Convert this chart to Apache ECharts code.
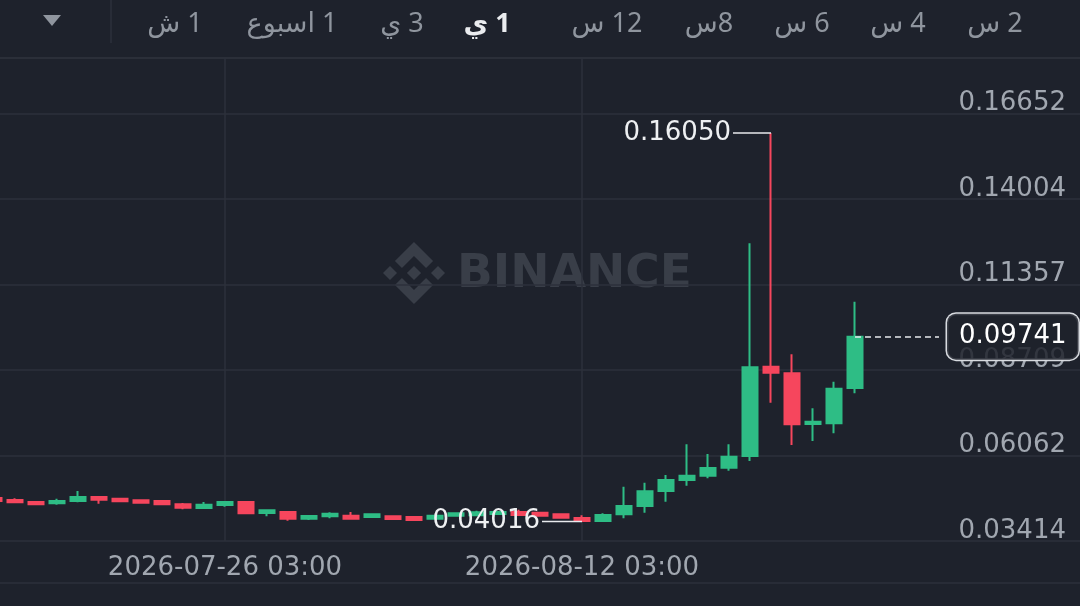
<!DOCTYPE html>
<html><head><meta charset="utf-8">
<script src="https://cdn.jsdelivr.net/npm/echarts@6/dist/echarts.min.js"></script>
<style>
html,body{margin:0;padding:0;background:#1e222c;overflow:hidden;width:1080px;height:606px}
#chart{position:absolute;left:-6px;top:0;width:1092px;height:606px}
#bar{position:absolute;left:0;top:0;width:1080px;height:58px;pointer-events:none}
#bar span{position:absolute;top:0;line-height:44px;transform:translateX(-50%);font-family:"Noto Sans","DejaVu Sans",sans-serif;font-size:27px;color:#8f959e;white-space:nowrap}
#bar span.on{color:#eaecef;font-weight:bold}
</style></head><body>
<div id="chart"></div>
<div id="bar"></div>
<script>
// ---- data ----
const categories = [
'2026-07-15 03:00','2026-07-16 03:00','2026-07-17 03:00','2026-07-18 03:00','2026-07-19 03:00','2026-07-20 03:00',
'2026-07-21 03:00','2026-07-22 03:00','2026-07-23 03:00','2026-07-24 03:00','2026-07-25 03:00','2026-07-26 03:00',
'2026-07-27 03:00','2026-07-28 03:00','2026-07-29 03:00','2026-07-30 03:00','2026-07-31 03:00','2026-08-01 03:00',
'2026-08-02 03:00','2026-08-03 03:00','2026-08-04 03:00','2026-08-05 03:00','2026-08-06 03:00','2026-08-07 03:00',
'2026-08-08 03:00','2026-08-09 03:00','2026-08-10 03:00','2026-08-11 03:00','2026-08-12 03:00','2026-08-13 03:00',
'2026-08-14 03:00','2026-08-15 03:00','2026-08-16 03:00','2026-08-17 03:00','2026-08-18 03:00','2026-08-19 03:00',
'2026-08-20 03:00','2026-08-21 03:00','2026-08-22 03:00','2026-08-23 03:00','2026-08-24 03:00','2026-08-25 03:00',
'2026-08-26 03:00','2026-08-27 03:00','2026-08-28 03:00','2026-08-29 03:00','2026-08-30 03:00','2026-08-31 03:00',
'2026-09-01 03:00','2026-09-02 03:00','2026-09-03 03:00','2026-09-04 03:00','2026-09-05 03:00'
];
const openPrices = [0.04746,0.04684,0.04622,0.04581,0.04653,0.04777,0.04724,0.04674,0.04653,0.04551,0.04436,0.04529,
0.04622,0.04281,0.04312,0.04105,0.04179,0.04197,0.04157,0.04179,0.04157,0.04105,0.04197,0.04210,0.04250,0.04312,
0.04290,0.04241,0.04126,0.04033,0.04241,0.04498,0.04962,0.05303,0.05436,0.05684,0.06046,0.08811,0.08607,0.07037,
0.07059,0.08152];
const closePrices = [0.04653,0.04612,0.04551,0.04653,0.04777,0.04693,0.04643,0.04600,0.04551,0.04445,0.04538,0.04622,
0.04272,0.04365,0.04105,0.04188,0.04259,0.04105,0.04241,0.04095,0.04064,0.04197,0.04272,0.04303,0.04312,0.04219,
0.04197,0.04136,0.04033,0.04219,0.04498,0.04953,0.05303,0.05436,0.05675,0.06025,0.08793,0.08626,0.07028,0.07108,
0.08130,0.09741];
const lowPrices = [0.04630,0.04591,0.04538,0.04538,0.04612,0.04569,0.04630,0.04590,0.04540,0.04396,0.04405,0.04476,
0.04241,0.04179,0.04043,0.04064,0.04117,0.04095,0.04140,0.04064,0.04050,0.04090,0.04180,0.04195,0.04235,0.04200,
0.04180,0.04120,0.04016,0.04030,0.04117,0.04290,0.04631,0.05126,0.05356,0.05591,0.05891,0.07697,0.06387,0.06511,
0.06749,0.07988];
const highPrices = [0.04770,0.04736,0.04653,0.04724,0.04962,0.04790,0.04746,0.04690,0.04684,0.04591,0.04622,0.04653,
0.04630,0.04390,0.04343,0.04219,0.04303,0.04312,0.04260,0.04210,0.04170,0.04215,0.04290,0.04352,0.04330,0.04383,
0.04305,0.04260,0.04210,0.04272,0.05095,0.05219,0.05458,0.06408,0.06108,0.06408,0.12632,0.16050,0.09195,0.07523,
0.08347,0.10824];
const yTicks = [0.03414, 0.06062, 0.08709, 0.11357, 0.14004, 0.16652];
const xTickLabels = ['2026-07-26 03:00', '2026-08-12 03:00'];
const intervalTabs = ['2 س', '4 س', '6 س', '8س', '12 س', '1 ي', '3 ي', '1 اسبوع', '1 ش'];
const activeTab = '1 ي';

// ---- layout ----
const tabCenters = [995, 898, 802, 709, 607, 487, 402, 292, 175];
const bar = document.getElementById('bar');
intervalTabs.forEach((t, i) => {
  const s = document.createElement('span');
  s.dir = 'rtl';
  s.textContent = t;
  s.style.left = tabCenters[i] + 'px';
  if (t === activeTab) s.className = 'on';
  bar.appendChild(s);
});

const ohlc = openPrices.map((o, i) => [o, closePrices[i], lowPrices[i], highPrices[i]]);
const lastIdx = ohlc.length - 1;
const lastClose = closePrices[lastIdx];
const yMin = yTicks[0];
const yInterval = (yTicks[yTicks.length - 1] - yTicks[0]) / (yTicks.length - 1);
const yMax = 0.18371;

const UP = '#2ebd85', DOWN = '#f6465d', GRID = '#2c313b', LABEL = '#a1a7b0', BG = '#1e222c';
const FONT = 'DejaVu Sans';
const OX = 6; // chart container is shifted 6px left of the page

// Binance logo polygons (decoration), in 126.61 unit box
const logo = [
  [[38.73,53.2],[63.3,28.62],[87.89,53.22],[102.19,38.92],[63.3,0],[24.4,38.9]],
  [[0,63.31],[14.3,49],[28.61,63.31],[14.3,77.61]],
  [[38.73,73.41],[63.3,98],[87.89,73.4],[102.2,87.69],[63.3,126.61],[24.4,87.71]],
  [[98,63.31],[112.3,49],[126.61,63.3],[112.3,77.61]],
  [[77.83,63.3],[63.3,48.78],[48.8,63.29],[63.31,77.79]]
];
const ls = 62 / 126.61, lx = 383 + OX, ly = 242, WM = '#393e48';
const logoEls = logo.map(p => ({
  type: 'polygon', z: -1, silent: true,
  shape: { points: p.map(([a, b]) => [lx + a * ls, ly + b * ls]) },
  style: { fill: WM }
}));

const chart = echarts.init(document.getElementById('chart'));
chart.setOption({
  backgroundColor: BG,
  animation: false,
  grid: { left: 0, right: 0, top: 58, bottom: 65 },
  xAxis: {
    type: 'category', data: categories, boundaryGap: false,
    axisLine: { show: false }, axisTick: { show: false },
    axisLabel: {
      interval: (i, v) => xTickLabels.includes(v),
      color: LABEL, fontFamily: FONT, fontSize: 26, margin: 14
    },
    splitLine: { show: true, interval: (i, v) => xTickLabels.includes(v), lineStyle: { color: GRID, width: 1.5 } }
  },
  yAxis: {
    type: 'value', position: 'right', min: yMin, max: yMax, interval: yInterval,
    axisLine: { show: false }, axisTick: { show: false },
    axisLabel: {
      inside: true, margin: 20, verticalAlign: 'bottom', lineHeight: 20,
      color: LABEL, fontFamily: FONT, fontSize: 26,
      showMaxLabel: false, formatter: v => v.toFixed(5)
    },
    splitLine: { lineStyle: { color: GRID, width: 1.5 } }
  },
  graphic: [
    ...logoEls,
    { type: 'text', z: -1, silent: true, x: 457 + OX, y: 275,
      style: { text: 'BINANCE', fill: WM, font: 'bold 47px "DejaVu Sans"', textVerticalAlign: 'middle' } },
    { type: 'line', silent: true, shape: { x1: 0, y1: 583, x2: 1092, y2: 583 }, style: { stroke: GRID, lineWidth: 1.5 } },
    { type: 'line', silent: true, shape: { x1: 0, y1: 58, x2: 1092, y2: 58 }, style: { stroke: GRID, lineWidth: 1.5 } },
    { type: 'line', silent: true, shape: { x1: 111 + OX, y1: 0, x2: 111 + OX, y2: 43 }, style: { stroke: GRID, lineWidth: 1.5 } },
    { type: 'polygon', silent: true, shape: { points: [[43 + OX, 15], [61 + OX, 15], [52 + OX, 26]] }, style: { fill: '#8f959e' } }
  ],
  series: [{
    type: 'candlestick',
    data: ohlc,
    barWidth: 16,
    itemStyle: { color: UP, color0: DOWN, borderColor: UP, borderColor0: DOWN, borderWidth: 2 },
    markPoint: {
      silent: true,
      symbol: 'rect',
      itemStyle: { color: '#e8eaed' },
      label: {
        show: true, position: 'left', distance: 2, color: '#eef0f2',
        fontFamily: FONT, fontSize: 26, formatter: p => p.value.toFixed(5)
      },
      data: [
        { type: 'max', valueDim: 'highest', symbolSize: [38, 1.5], symbolOffset: [-19, 0] },
        { type: 'min', valueDim: 'lowest', symbolSize: [40, 1.5], symbolOffset: [-20, 0] }
      ]
    },
    markLine: {
      silent: true,
      symbol: ['none', 'none'],
      lineStyle: { color: '#e8eaed', type: [6, 4], width: 1.5 },
      label: {
        show: true, position: 'end', distance: 8,
        formatter: () => lastClose.toFixed(5),
        color: '#ffffff', fontFamily: FONT, fontSize: 26, lineHeight: 30,
        backgroundColor: 'rgba(30,34,44,0.85)', borderColor: '#d8dbe0', borderWidth: 1.5,
        borderRadius: 9, padding: [8, 12]
      },
      data: [[
        { coord: [categories[lastIdx], lastClose] },
        { coord: [categories[lastIdx + 4], lastClose] }
      ]]
    }
  }]
});
</script>
</body></html>
